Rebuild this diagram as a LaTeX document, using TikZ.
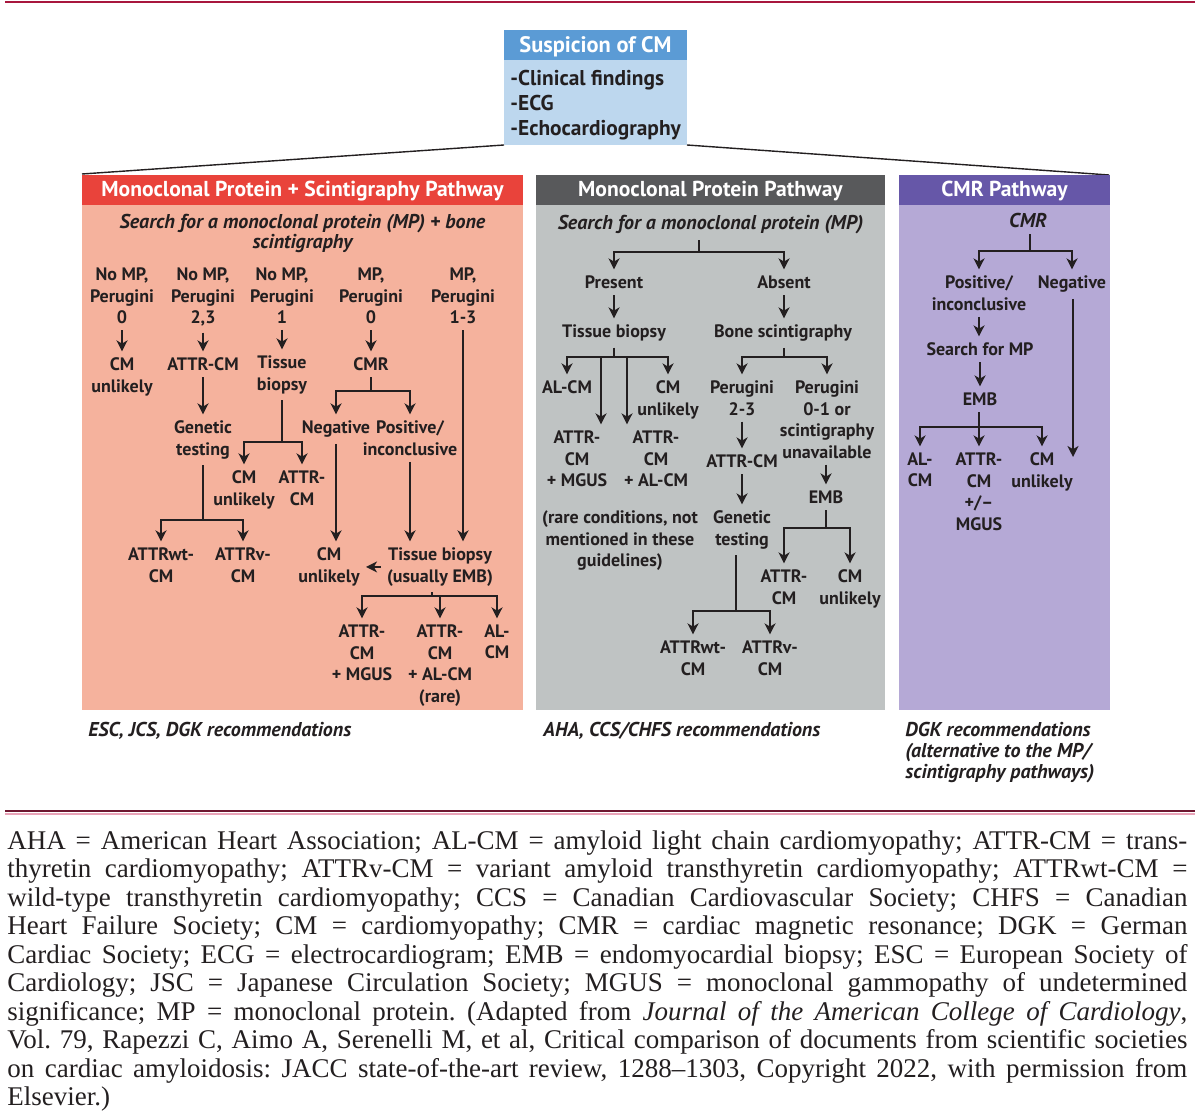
\documentclass[tikz,border=0pt]{standalone}
\usepackage{fontspec}
\setmainfont{Liberation Serif}
\newfontfamily\ptsans{PT Sans}
\usetikzlibrary{arrows.meta}

\definecolor{ink}{HTML}{231F20}
\definecolor{topred}{HTML}{A8173E}
\definecolor{maroon}{HTML}{6E1630}
\definecolor{pinkline}{HTML}{E9A3B8}
\definecolor{blueH}{HTML}{5B9BD5}
\definecolor{blueB}{HTML}{BDD7EE}
\definecolor{redH}{HTML}{E9433B}
\definecolor{redB}{HTML}{F5B29D}
\definecolor{grayH}{HTML}{58595B}
\definecolor{grayB}{HTML}{BFC3C3}
\definecolor{purH}{HTML}{6657A8}
\definecolor{purB}{HTML}{B5A9D6}

\tikzset{
	lbl/.style={font=\ptsans\bfseries\fontsize{9}{10.75}\selectfont, align=center, anchor=north, yshift=9.3pt, inner sep=3pt, text=ink},
	ital/.style={font=\ptsans\bfseries\itshape\fontsize{10}{10}\selectfont, align=center, anchor=north, yshift=10pt, inner sep=3pt, text=ink},
	hdr/.style={font=\ptsans\bfseries\fontsize{10.8}{12}\selectfont, anchor=base, inner sep=0pt, text=white},
	rec/.style={font=\ptsans\bfseries\itshape\fontsize{10}{10.5}\selectfont, align=left, anchor=north west, yshift=7pt, inner sep=0pt, text=ink},
	ln/.style={draw=ink, line width=0.9pt},
	arr/.style={ln, -{Stealth[length=5.5pt,width=5.5pt,inset=1.6pt]}},
}

\begin{document}
\begin{tikzpicture}[x=0.5pt, y=-0.5pt]
			\useasboundingbox (0,0) rectangle (1200,1117);
			%%%%% FRAME %%%%%
			\draw[topred, line width=1pt] (5,2) -- (1195,2);
			\draw[pinkline, line width=1pt] (5,813.5) -- (1195,813.5);
			\draw[maroon, line width=1.2pt] (5,811) -- (1195,811);
			
			%%%%% SUSPICION %%%%%
			\fill[blueH] (504,30) rectangle (687,60);
			\fill[blueB] (504,60) rectangle (687,145);
			\node[hdr, font=\ptsans\bfseries\fontsize{11.2}{12}\selectfont] (susp) at (595.5,53) {Suspicion of CM};
			\node[font=\ptsans\bfseries\fontsize{10.7}{12.5}\selectfont, align=left, anchor=north west, yshift=7.5pt, inner sep=0pt, text=ink] (findings) at (510,85) {-Clinical findings\\-ECG\\-Echocardiography};
			
			\coordinate (suspSW) at (504,145);
			\coordinate (suspSE) at (687,145);
			\coordinate (pL) at (82,174);
			\coordinate (pR) at (1109,175);
			\draw[ln, line width=0.7pt] (suspSW) -- (pL);
			\draw[ln, line width=0.7pt] (suspSE) -- (pR);
			
			%%%%% PANELS %%%%%
			\fill[redH] (82,175) rectangle (523,205);
			\fill[redB] (82,205) rectangle (523,710);
			\fill[grayH] (536,175) rectangle (885,205);
			\fill[grayB] (536,205) rectangle (885,710);
			\fill[purH] (899,175) rectangle (1110,205);
			\fill[purB] (899,205) rectangle (1110,710);
			
			%%%%% MP + SCINTIGRAPHY %%%%%
			\node[hdr] (hdrL) at (302.5,197) {Monoclonal Protein + Scintigraphy Pathway};
			\node[ital] (srchL) at (302.5,228) {Search for a monoclonal protein (MP) + bone\\scintigraphy};
			
			\node[lbl] (noMP0) at (122,280) {No MP,\\Perugini\\0};
			\node[lbl] (noMP23) at (203,280) {No MP,\\Perugini\\2,3};
			\node[lbl] (noMP1) at (282,280) {No MP,\\Perugini\\1};
			\node[lbl] (mp0) at (371,280) {MP,\\Perugini\\0};
			\node[lbl] (mp13) at (463,280) {MP,\\Perugini\\1-3};
			
			\node[lbl] (cmUnl1) at (122,370) {CM\\unlikely};
			\node[lbl] (attrA) at (203,370) {ATTR-CM};
			\node[lbl] (tisA) at (282,368) {Tissue\\biopsy};
			\node[lbl] (cmrA) at (371,370) {CMR};
			\node[lbl] (genA) at (203,433) {Genetic\\testing};
			\node[lbl] (negA) at (336,433) {Negative};
			\node[lbl] (posA) at (410,433) {Positive/\\inconclusive};
			\node[lbl] (cmUnl2) at (244,483) {CM\\unlikely};
			\node[lbl] (attrB) at (302,483) {ATTR-\\CM};
			\node[lbl] (wtA) at (161,560) {ATTRwt-\\CM};
			\node[lbl] (vA) at (243,560) {ATTRv-\\CM};
			\node[lbl] (cmUnl3) at (329,560) {CM\\unlikely};
			\node[lbl] (tisB) at (440,560) {Tissue biopsy\\(usually EMB)};
			\node[lbl] (mgusA) at (362,637) {ATTR-\\CM\\+ MGUS};
			\node[lbl] (alcmA) at (440,637) {ATTR-\\CM\\+ AL-CM\\(rare)};
			\node[lbl] (alA) at (497,637) {AL-\\CM};
			
			\coordinate (jTisA) at (282,442);
			\coordinate (jCmrA) at (371,391);
			\coordinate (jGenA) at (203,520);
			\coordinate (jTisB) at (432,596);
			
			\draw[arr] (noMP0.south) -- (noMP0.south |- cmUnl1.north);
			\draw[arr] (noMP23.south) -- (noMP23.south |- attrA.north);
			\draw[arr] (noMP1.south) -- (noMP1.south |- tisA.north);
			\draw[arr] (mp0.south) -- (mp0.south |- cmrA.north);
			\draw[arr] (mp13.south) -- (mp13.south |- tisB.north);
			\draw[arr] (attrA.south) -- (attrA.south |- genA.north);
			\draw[ln] (tisA.south) -- (jTisA);
			\draw[arr] (jTisA) -| (cmUnl2.north);
			\draw[arr] (jTisA) -| (attrB.north);
			\draw[ln] (cmrA.south) -- (jCmrA);
			\draw[arr] (jCmrA) -| (negA.north);
			\draw[arr] (jCmrA) -| (posA.north);
			\draw[arr] (negA.south) -- (negA.south |- cmUnl3.north);
			\draw[arr] (posA.south) -- (posA.south |- tisB.north);
			\draw[ln] (genA.south) -- (jGenA);
			\draw[arr] (jGenA) -| (wtA.north);
			\draw[arr] (jGenA) -| (vA.north);
			\draw[arr] (tisB.west) -- (tisB.west -| cmUnl3.east);
			\draw[ln] (tisB.south -| jTisB) -- (jTisB);
			\draw[arr] (jTisB) -| (mgusA.north);
			\draw[arr] (jTisB) -| (alcmA.north);
			\draw[arr] (jTisB) -| (alA.north);
			
			%%%%% MP %%%%%
			\node[hdr] (hdrM) at (710.5,197) {Monoclonal Protein Pathway};
			\node[ital] (srchM) at (710.5,229) {Search for a monoclonal protein (MP)};
			\node[lbl] (presM) at (614,288) {Present};
			\node[lbl] (absM) at (784,288) {Absent};
			\node[lbl] (tisM) at (614,337) {Tissue biopsy};
			\node[lbl] (boneM) at (783,337) {Bone scintigraphy};
			\node[lbl] (alcmM) at (567,393) {AL-CM};
			\node[lbl] (cmUnl4) at (668,393) {CM\\unlikely};
			\node[lbl] (mgusM) at (577,443) {ATTR-\\CM\\+ MGUS};
			\node[lbl] (alcmB) at (656,443) {ATTR-\\CM\\+ AL-CM};
			\node[lbl] (rareM) at (620,523) {(rare conditions, not\\mentioned in these\\guidelines)};
			\node[lbl] (pg23) at (742,393) {Perugini\\2-3};
			\node[lbl] (pg01) at (827,393) {Perugini\\0-1 or\\scintigraphy\\unavailable};
			\node[lbl] (attrM) at (742,467) {ATTR-CM};
			\node[lbl] (genM) at (742,523) {Genetic\\testing};
			\node[lbl] (wtM) at (693,653) {ATTRwt-\\CM};
			\node[lbl] (vM) at (770,653) {ATTRv-\\CM};
			\node[lbl] (embM) at (826,503) {EMB};
			\node[lbl] (attrE) at (784,582) {ATTR-\\CM};
			\node[lbl] (cmUnl5) at (850,582) {CM\\unlikely};
			
			\coordinate (jSrchM) at (699,252);
			\coordinate (jTisM) at (614,357);
			\coordinate (k1) at (601,357);
			\coordinate (k2) at (627,357);
			\coordinate (jBone) at (784,357);
			\coordinate (jGenM) at (736,611);
			\coordinate (jEmbM) at (826,528);
			
			\draw[ln] (srchM.south -| jSrchM) -- (jSrchM);
			\draw[arr] (jSrchM) -| (presM.north);
			\draw[arr] (jSrchM) -| (absM.north);
			\draw[arr] (presM.south) -- (presM.south |- tisM.north);
			\draw[arr] (absM.south) -- (absM.south |- boneM.north);
			\draw[ln] (tisM.south) -- (jTisM);
			\draw[arr] (jTisM) -| (alcmM.north);
			\draw[arr] (jTisM) -| (cmUnl4.north);
			\draw[arr] (k1) -- (k1 |- mgusM.north);
			\draw[arr] (k2) -- (k2 |- alcmB.north);
			\draw[ln] (boneM.south -| jBone) -- (jBone);
			\draw[arr] (jBone) -| (pg23.north);
			\draw[arr] (jBone) -| (pg01.north);
			\draw[arr] (pg23.south) -- (pg23.south |- attrM.north);
			\draw[arr] (attrM.south) -- (attrM.south |- genM.north);
			\draw[ln] (genM.south -| jGenM) -- (jGenM);
			\draw[arr] (jGenM) -| (wtM.north);
			\draw[arr] (jGenM) -| (vM.north);
			\draw[arr] (pg01.south -| embM) -- (embM.north);
			\draw[ln] (embM.south) -- (jEmbM);
			\draw[arr] (jEmbM) -| (attrE.north);
			\draw[arr] (jEmbM) -| (cmUnl5.north);
			
			%%%%% CMR %%%%%
			\node[hdr] (hdrR) at (1004.5,197) {CMR Pathway};
			\node[ital] (cmrR) at (1028,227) {CMR};
			\node[lbl] (posR) at (979,288) {Positive/\\inconclusive};
			\node[lbl] (negR) at (1072,288) {Negative};
			\node[lbl] (srchR) at (980,355) {Search for MP};
			\node[lbl] (embR) at (980,405) {EMB};
			\node[lbl] (alR) at (920,465) {AL-\\CM};
			\node[lbl] (attrR) at (979,465) {ATTR-\\CM\\+/–\\MGUS};
			\node[lbl] (cmUnl6) at (1042,465) {CM\\unlikely};
			
			\coordinate (jCmrR) at (1030,251);
			\coordinate (jEmbR) at (979,427);
			\coordinate (endNeg) at (1073,457);
			
			\draw[ln] (cmrR.south -| jCmrR) -- (jCmrR);
			\draw[arr] (jCmrR) -| (posR.north);
			\draw[arr] (jCmrR) -| (negR.north);
			\draw[arr] (negR.south -| endNeg) -- (endNeg);
			\draw[arr] (posR.south) -- (posR.south |- srchR.north);
			\draw[arr] (srchR.south -| embR) -- (embR.north);
			\draw[ln] (embR.south -| jEmbR) -- (jEmbR);
			\draw[arr] (jEmbR) -| (alR.north);
			\draw[arr] (jEmbR) -| (attrR.north);
			\draw[arr] (jEmbR) -| (cmUnl6.north);
			
			%%%%% RECOMMENDATIONS %%%%%
			\node[rec] (recL) at (88,736) {ESC, JCS, DGK recommendations};
			\node[rec] (recM) at (543,736) {AHA, CCS/CHFS recommendations};
			\node[rec] (recR) at (905,736) {DGK recommendations\\(alternative to the MP/\\scintigraphy pathways)};
			
			%%%%% LEGEND %%%%%
			\node[anchor=base west, inner sep=0pt, text width=590pt, align=justify, font=\fontsize{13.5}{14.25}\selectfont, text=ink] (legend) at (7,849) {\hyphenpenalty=10000 \tolerance=9999 \frenchspacing
				AHA = American Heart Association; AL-CM = amyloid light chain cardiomyopathy; ATTR-CM = trans-\linebreak
				thyretin cardiomyopathy; ATTRv-CM = variant amyloid transthyretin cardiomyopathy; ATTRwt-CM =\linebreak
				wild-type transthyretin cardiomyopathy; CCS = Canadian Cardiovascular Society; CHFS = Canadian\linebreak
				Heart Failure Society; CM = cardiomyopathy; CMR = cardiac magnetic resonance; DGK = German\linebreak
				Cardiac Society; ECG = electrocardiogram; EMB = endomyocardial biopsy; ESC = European Society of\linebreak
				Cardiology; JSC = Japanese Circulation Society; MGUS = monoclonal gammopathy of undetermined\linebreak
				significance; MP = monoclonal protein. (Adapted from \textit{Journal of the American College of Cardiology},\linebreak
				Vol. 79, Rapezzi C, Aimo A, Serenelli M, et al, Critical comparison of documents from scientific societies\linebreak
				on cardiac amyloidosis: JACC state-of-the-art review, 1288–1303, Copyright 2022, with permission from\linebreak
				Elsevier.)};
\end{tikzpicture}
\end{document}
